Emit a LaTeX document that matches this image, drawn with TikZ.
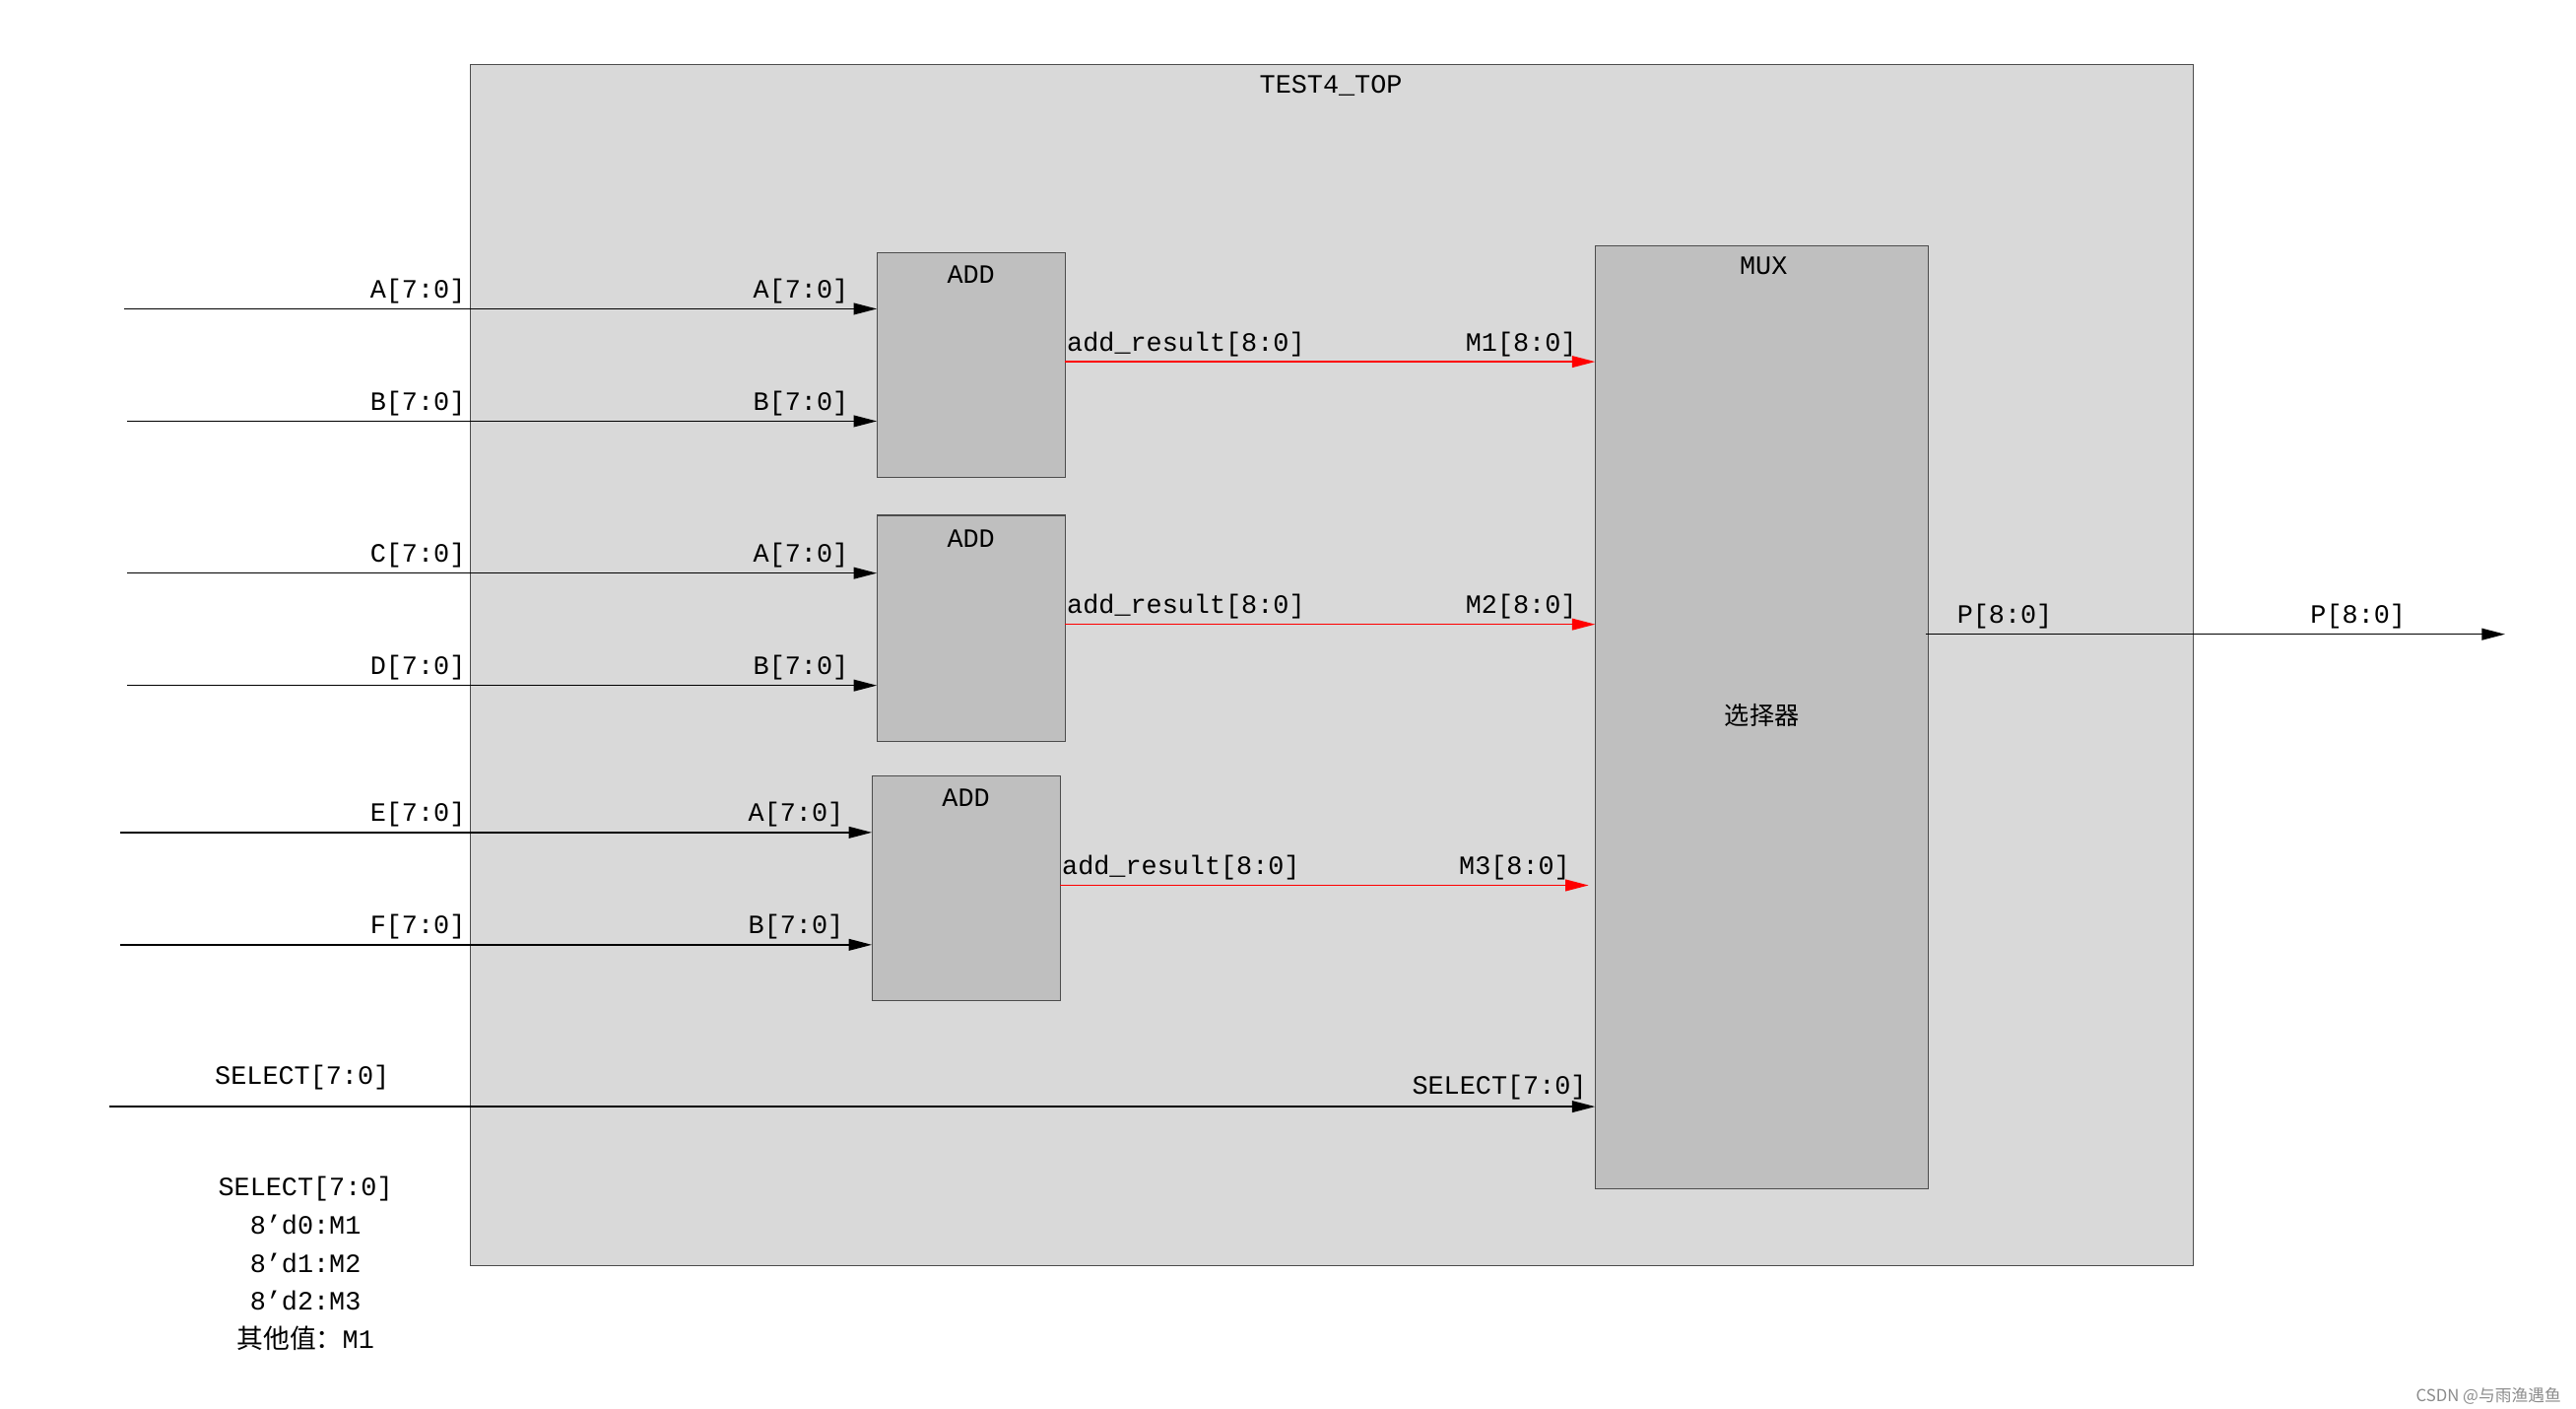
\documentclass[tikz,border=0pt]{standalone}
\usepackage{fontspec}
\setmainfont{Liberation Mono}
\newfontfamily\cjk{Noto Sans CJK SC}
\usetikzlibrary{arrows.meta}
\begin{document}
\begin{tikzpicture}[x=1pt,y=-1pt,font=\fontsize{16}{19}\selectfont,
  blk/.style={draw=black!70,fill=black!25,line width=0.6pt},
  wire/.style={line width=0.9pt,-{Triangle[length=14pt,width=7pt]}},
  rwire/.style={wire,red},
  lbl/.style={inner sep=1pt,anchor=south east}]
\useasboundingbox (0,0) rectangle (1560,853);
\fill[white] (0,0) rectangle (1560,853);
\draw[draw=black!70,fill=black!15,line width=0.6pt] (285,39) rectangle (1328,766);
\node (title) at (806,52) {TEST4\_TOP};
\draw[blk] (531,153) rectangle (645,289);
\draw[blk] (531,312) rectangle (645,449);
\draw[blk] (528,470) rectangle (642,606);
\draw[blk] (966,149) rectangle (1168,720);
\node (t1) at (588,166) {ADD};
\node (t2) at (588,326) {ADD};
\node (t3) at (585,483) {ADD};
\node (tm) at (1068,161) {MUX};
\node (sel) at (1067,433) {\cjk\fontsize{15}{18}\selectfont 选择器};
% inputs
\foreach \n/\x/\y/\ex/\a/\b in {A/75/187/531/A/A, B/77/255/531/B/B, C/77/347/531/C/A, D/77/415/531/D/B, E/73/504/528/E/A, F/73/572/528/F/B}{
  \coordinate (s\n) at (\x,\y);
  \coordinate (e\n) at (\ex,\y);
  \draw[wire] (s\n) -- (e\n);
  \node[lbl] at (283,\y-2) {\a[7:0]};
  \node[lbl] at (\ex-16,\y-2) {\b[7:0]};
}
\coordinate (sS) at (66,670); \coordinate (eS) at (966,670);
\draw[wire] (sS) -- (eS);
\node[inner sep=1pt,anchor=south] at (183,661) {SELECT[7:0]};
\node[lbl] at (962,667) {SELECT[7:0]};
% red
\foreach \i/\x/\y/\ex in {1/645/219/966,2/645/378/966,3/642/536/962}{
  \coordinate (r\i) at (\x,\y); \coordinate (m\i) at (\ex,\y);
  \draw[rwire] (r\i) -- (m\i);
  \node[inner sep=1pt,anchor=south west] at (\x,\y-2) {add\_result[8:0]};
  \node[lbl] at (\ex-10,\y-2) {M\i[8:0]};
}
\coordinate (p0) at (1166,384); \coordinate (p1) at (1517,384);
\draw[wire] (p0) -- (p1);
\node[inner sep=1pt,anchor=south] at (1214,382) {P[8:0]};
\node[inner sep=1pt,anchor=south] at (1428,382) {P[8:0]};
\node[align=center,inner sep=0pt] (note) at (185,765) {SELECT[7:0]\\[4pt]8'd0:M1\\[4pt]8'd1:M2\\[4pt]8'd2:M3\\[4pt]{\cjk 其他值：}M1};
\node[text=black!45,font=\fontsize{10}{12}\selectfont\cjk] (wm) at (1507,845) {CSDN @与雨渔遇鱼};
\end{tikzpicture}
\end{document}
